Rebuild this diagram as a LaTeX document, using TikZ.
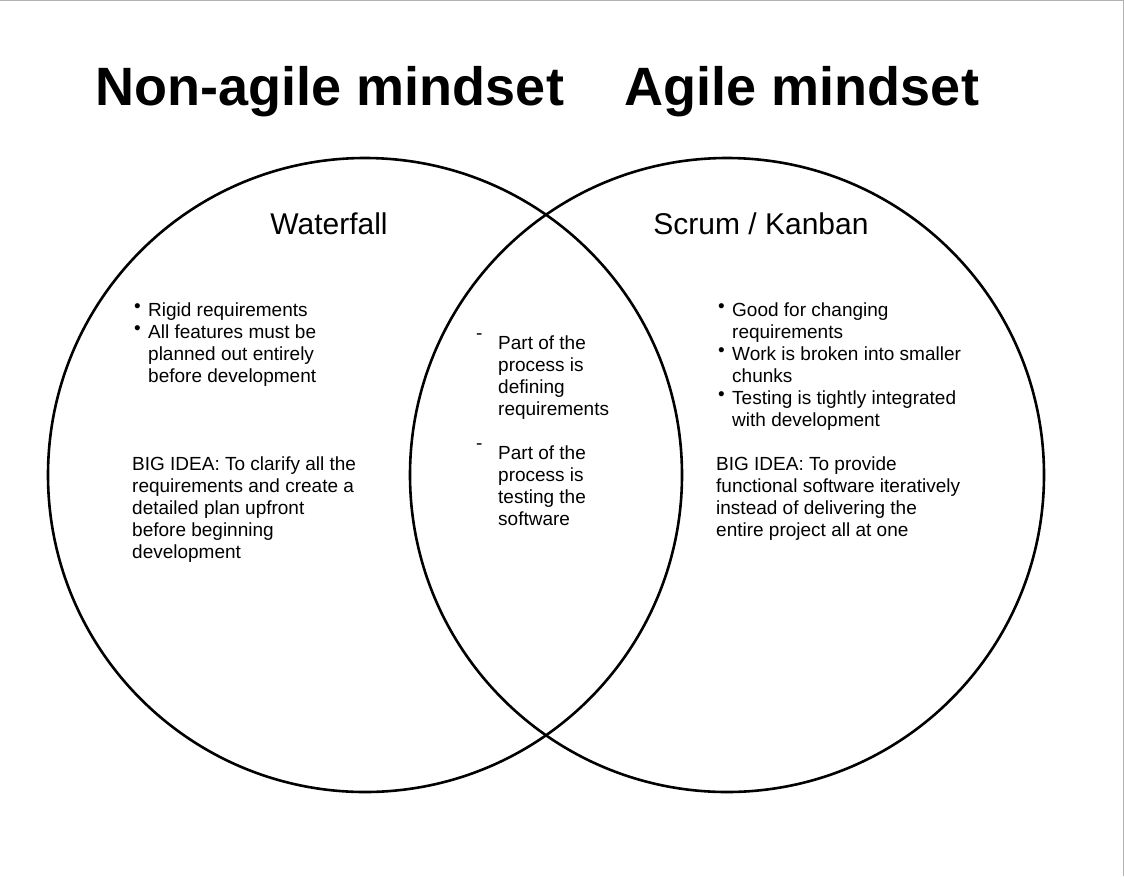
\documentclass[tikz,border=0pt]{standalone}
\usepackage{fontspec}
\setmainfont{Liberation Sans}
\begin{document}
\begin{tikzpicture}[x=1pt,y=-1pt,
  circ/.style={draw=black,line width=2.6pt},
  title/.style={font=\fontsize{54}{60}\selectfont\bfseries,anchor=center,inner sep=0},
  head/.style={font=\fontsize{30}{34}\selectfont,anchor=center,inner sep=0},
  body/.style={font=\fontsize{19}{22}\selectfont,anchor=north west,align=left,inner sep=0},
  bul/.style={font=\fontsize{19}{22}\selectfont,anchor=north west,inner sep=0}]
\useasboundingbox (0,0) rectangle (1124,876);
\draw[gray!60,line width=1pt] (0,0.5) -- (1123.5,0.5) -- (1123.5,876);
\node[title] (t1) at (330,92) {Non-agile mindset};
\node[title] (t2) at (802,92) {Agile mindset};
\draw[circ] (365,475) circle (317);
\draw[circ] (727,475) circle (317);
\node[head] (w) at (329,224) {Waterfall};
\node[head] (s) at (761,224) {Scrum / Kanban};
% left
\node[bul] (lb1) at (134,303) {•};
\node[bul] (lb2) at (134,325) {•};
\node[body] (l1) at (148,303) {Rigid requirements\\All features must be\\planned out entirely\\before development};
\node[body] (l2) at (132,457) {BIG IDEA: To clarify all the\\requirements and create a\\detailed plan upfront\\before beginning\\development};
% middle
\node[bul] (md1) at (476,334) {-};
\node[bul] (md2) at (476,444) {-};
\node[body] (m1) at (498,336) {Part of the\\process is\\defining\\requirements};
\node[body] (m2) at (498,446) {Part of the\\process is\\testing the\\software};
% right
\node[bul] (rb1) at (718,303) {•};
\node[bul] (rb2) at (718,347) {•};
\node[bul] (rb3) at (718,391) {•};
\node[body] (r1) at (732,303) {Good for changing\\requirements\\Work is broken into smaller\\chunks\\Testing is tightly integrated\\with development};
\node[body] (r2) at (716,457) {BIG IDEA: To provide\\functional software iteratively\\instead of delivering the\\entire project all at one};
\end{tikzpicture}
\end{document}
